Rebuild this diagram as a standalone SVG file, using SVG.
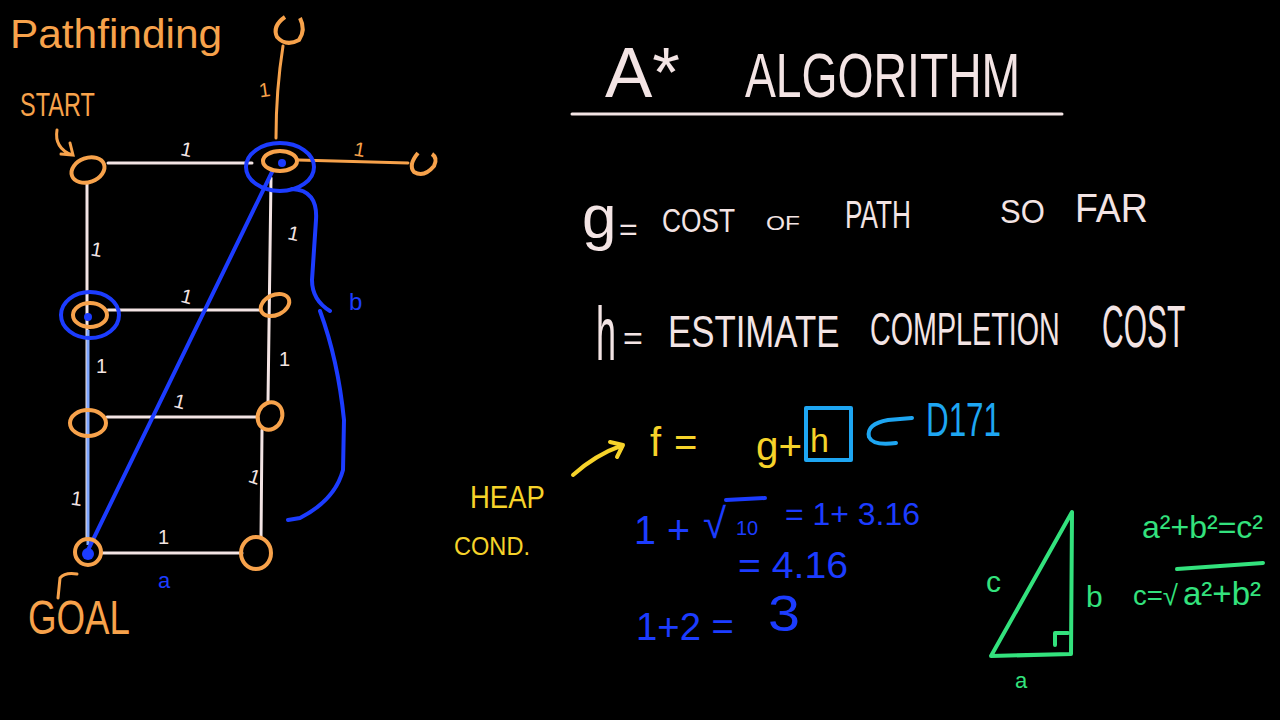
<svg xmlns="http://www.w3.org/2000/svg" width="1280" height="720" viewBox="0 0 1280 720">
<style>
text{font-family:"Liberation Sans",Arial,sans-serif}
.t-or{fill:#F7A24B}
.t-wh{fill:#F3E4E4}
.t-bl{fill:#1C3CFF}
.t-cy{fill:#1EA6F2}
.t-ye{fill:#F6D32A}
.t-gr{fill:#33E27D}
.l-wh{stroke:#F3E4E4;stroke-width:3;fill:none;stroke-linecap:round}
.l-or{stroke:#F7A24B;stroke-width:3;fill:none;stroke-linecap:round}
.l-bl{stroke:#1C3CFF;stroke-width:4;fill:none;stroke-linecap:round;stroke-linejoin:round}
.l-cy{stroke:#1EA6F2;stroke-width:4;fill:none;stroke-linecap:round;stroke-linejoin:round}
.l-ye{stroke:#F6D32A;stroke-width:4;fill:none;stroke-linecap:round;stroke-linejoin:round}
.l-gr{stroke:#33E27D;stroke-width:4;fill:none;stroke-linecap:round;stroke-linejoin:round}
.node{stroke:#F7A24B;stroke-width:4;fill:none}
</style>
<rect width="1280" height="720" fill="#000"/>

<text x="10" y="48" font-size="40" class="t-or" textLength="212" lengthAdjust="spacingAndGlyphs">Pathfinding</text>

<!-- connectors -->
<g id="connectors">
  <line class="l-wh" x1="108" y1="163" x2="252" y2="163"/>
  <line class="l-wh" x1="87" y1="184" x2="87" y2="538"/>
  <line class="l-wh" x1="271" y1="178" x2="268" y2="402"/>
  <line class="l-wh" x1="262" y1="430" x2="261" y2="538"/>
  <line class="l-wh" x1="108" y1="310" x2="260" y2="310"/>
  <line class="l-wh" x1="107" y1="417" x2="257" y2="417"/>
  <line class="l-wh" x1="101" y1="553" x2="242" y2="553"/>
  <path class="l-or" d="M283 46 Q276 90 276 138"/>
  <line class="l-or" x1="298" y1="160" x2="408" y2="163"/>
  <line stroke="#7FA6FF" stroke-width="3" x1="88" y1="330" x2="88" y2="545"/>
  <line class="l-bl" x1="272" y1="172" x2="88" y2="550"/>
</g>

<!-- edge labels -->
<g id="edge-labels" font-size="20">
  <text class="t-wh" x="181" y="156" transform="rotate(12 185 150)">1</text>
  <text class="t-or" x="259" y="97" transform="rotate(-8 263 90)">1</text>
  <text class="t-or" x="354" y="156" transform="rotate(10 358 150)">1</text>
  <text class="t-wh" x="91" y="256" transform="rotate(10 95 250)">1</text>
  <text class="t-wh" x="288" y="240" transform="rotate(12 292 234)">1</text>
  <text class="t-wh" x="181" y="303" transform="rotate(14 185 297)">1</text>
  <text class="t-wh" x="96" y="373">1</text>
  <text class="t-wh" x="279" y="366">1</text>
  <text class="t-wh" x="174" y="408" transform="rotate(14 178 402)">1</text>
  <text class="t-wh" x="249" y="483" transform="rotate(18 253 477)">1</text>
  <text class="t-wh" x="71" y="505" transform="rotate(8 75 499)">1</text>
  <text class="t-wh" x="158" y="544">1</text>
</g>

<!-- nodes -->
<g id="node-start"><ellipse class="node" cx="88" cy="170" rx="17" ry="12" transform="rotate(-20 88 170)"/></g>
<g id="node-mid-top">
  <ellipse class="node" cx="280" cy="161" rx="17" ry="10"/>
  <ellipse class="l-bl" cx="280" cy="167" rx="34" ry="24"/>
  <circle cx="282" cy="163" r="4" fill="#1C3CFF"/>
</g>
<g id="node-right"><path class="node" d="M418 153 Q408 165 414 172 Q424 178 434 166 Q438 158 432 154"/></g>
<g id="node-top"><path class="node" d="M285 17 Q272 26 277 37 Q286 47 299 40 Q306 30 300 18"/></g>
<g id="node-l2">
  <ellipse class="node" cx="90" cy="315" rx="17" ry="12"/>
  <ellipse class="l-bl" cx="90" cy="315" rx="29" ry="23"/>
  <circle cx="88" cy="317" r="4" fill="#1C3CFF"/>
</g>
<g id="node-r2"><ellipse class="node" cx="275" cy="305" rx="15" ry="10" transform="rotate(-25 275 305)"/></g>
<g id="node-l3"><ellipse class="node" cx="88" cy="423" rx="18" ry="13"/></g>
<g id="node-r3"><ellipse class="node" cx="270" cy="416" rx="12" ry="14" transform="rotate(25 270 416)"/></g>
<g id="node-goal">
  <circle class="node" cx="88" cy="552" r="13"/>
  <circle cx="88" cy="554" r="6" fill="#1C3CFF"/>
</g>
<g id="node-r4"><ellipse class="node" cx="256" cy="553" rx="15" ry="16"/></g>

<!-- labels left -->
<text transform="translate(20 116) scale(1 1.45)" font-size="23.5" class="t-or">START</text>
<path class="l-or" d="M57 130 Q54 148 72 155 M70 143 L73 155 L61 154"/>
<text transform="translate(28 634) scale(1 1.3)" font-size="36.7" class="t-or">GOAL</text>
<path class="l-or" d="M58 598 L60 578 Q65 572 77 574"/>

<!-- blue brace and a,b -->
<path class="l-bl" d="M292 189 Q318 190 316 220 L312 280 Q312 300 330 311 M320 311 Q338 360 344 420 L343 470 Q335 500 300 518 L288 520"/>
<text x="349" y="310" font-size="24" class="t-bl">b</text>
<text x="158" y="588" font-size="22" class="t-bl">a</text>

<!-- title -->
<text x="605" y="97" font-size="71" class="t-wh">A*</text>
<text transform="translate(745 97) scale(1 1.36)" font-size="46.3" class="t-wh">ALGORITHM</text>
<line class="l-wh" x1="572" y1="114" x2="1062" y2="114"/>

<!-- g line -->
<text x="582" y="238" font-size="62" class="t-wh">g</text>
<text x="619" y="240" font-size="32" class="t-wh">=</text>
<text transform="translate(662 232) scale(1 1.27)" font-size="26.3" class="t-wh">COST</text>
<text transform="translate(766 230) scale(1 0.85)" font-size="24.5" class="t-wh">OF</text>
<text transform="translate(845 228) scale(1 1.49)" font-size="26.2" class="t-wh">PATH</text>
<text transform="translate(1000 223) scale(1 1.08)" font-size="31" class="t-wh">SO</text>
<text transform="translate(1075 222) scale(1 1.08)" font-size="37.5" class="t-wh">FAR</text>

<!-- h line -->
<text transform="translate(596 360) scale(1 2.1)" font-size="36" class="t-wh">h</text>
<text x="623" y="350" font-size="34" class="t-wh">=</text>
<text transform="translate(668 347) scale(1 1.28)" font-size="34.8" class="t-wh">ESTIMATE</text>
<text transform="translate(870 345) scale(1 1.6)" font-size="28.7" class="t-wh">COMPLETION</text>
<text transform="translate(1102 347) scale(1 1.96)" font-size="30" class="t-wh">COST</text>

<!-- f line -->
<path class="l-ye" d="M573 475 Q595 455 623 445 M610 442 L623 445 L617 457"/>
<text x="650" y="456" font-size="40" class="t-ye">f</text>
<text x="674" y="456" font-size="40" class="t-ye">=</text>
<text x="756" y="460" font-size="40" class="t-ye" textLength="46" lengthAdjust="spacingAndGlyphs">g+</text>
<rect x="806" y="408" width="45" height="52" class="l-cy"/>
<text x="810" y="452" font-size="34" class="t-ye">h</text>
<path class="l-cy" d="M912 418 L888 420 Q866 424 869 437 Q873 446 896 443"/>
<text transform="translate(926 436) scale(1 1.56)" font-size="31.4" class="t-cy">D171</text>

<text transform="translate(470 508) scale(1 1.12)" font-size="27.5" class="t-ye">HEAP</text>
<text transform="translate(454 555) scale(1 1.07)" font-size="23.6" class="t-ye">COND.</text>

<!-- blue math -->
<text x="634" y="544" font-size="40" class="t-bl" textLength="56" lengthAdjust="spacingAndGlyphs">1 +</text>
<text x="703" y="538" font-size="42" class="t-bl">√</text>
<line class="l-bl" x1="726" y1="500" x2="765" y2="498"/>
<text x="736" y="535" font-size="20" class="t-bl">10</text>
<text x="785" y="525" font-size="32" class="t-bl" textLength="135" lengthAdjust="spacingAndGlyphs">= 1+ 3.16</text>
<text x="738" y="578" font-size="36" class="t-bl" textLength="110" lengthAdjust="spacingAndGlyphs">= 4.16</text>
<text x="636" y="640" font-size="38" class="t-bl" textLength="98" lengthAdjust="spacingAndGlyphs">1+2 =</text>
<text x="768" y="631" font-size="50" class="t-bl" textLength="32" lengthAdjust="spacingAndGlyphs">3</text>

<!-- triangle -->
<path class="l-gr" d="M991 656 L1072 512 L1071 654 Z"/>
<path class="l-gr" stroke-width="3" d="M1055 645 L1055 633 L1068 633"/>
<text x="986" y="592" font-size="30" class="t-gr">c</text>
<text x="1086" y="607" font-size="30" class="t-gr">b</text>
<text x="1015" y="688" font-size="22" class="t-gr">a</text>
<text x="1142" y="538" font-size="32" class="t-gr" textLength="121" lengthAdjust="spacingAndGlyphs">a²+b²=c²</text>
<text x="1133" y="605" font-size="28" class="t-gr" textLength="45" lengthAdjust="spacingAndGlyphs">c=√</text>
<line class="l-gr" x1="1177" y1="569" x2="1263" y2="563"/>
<text x="1183" y="605" font-size="33" class="t-gr" textLength="78" lengthAdjust="spacingAndGlyphs">a²+b²</text>
</svg>
